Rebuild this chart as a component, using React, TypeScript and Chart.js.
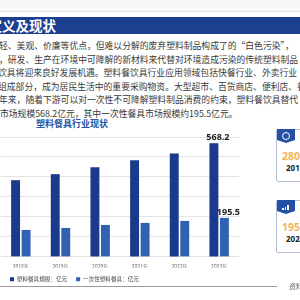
import React, { useEffect, useRef } from "react";
import { Chart, registerables } from "chart.js";

Chart.register(...registerables);

// ---- data ----
const years = ["2018年", "2019年", "2020年", "2021年", "2022年", "2023年"];
const marketSize = [384, 414, 449, 484, 518, 568.2];
const disposableSize = [135, 145, 160, 170, 180, 195.5];
const seriesNames = ["塑料餐具规模：亿元", "一次性塑料餐具：亿元"];
const yMax = 600;
const yStep = 100;

const bannerTitle = "塑料餐饮具行业定义及现状";
const chartTitle = "塑料餐具行业现状";
const paragraphLines = [
  "轻、美观、价廉等优点，但难以分解的废弃塑料制品构成了的“白色污染”，",
  "，研发、生产在环境中可降解的新材料来代替对环境造成污染的传统塑料制品",
  "饮具将迎来良好发展机遇。塑料餐饮具行业应用领域包括快餐行业、外卖行业",
  "组成部分，成为居民生活中的重要采购物资。大型超市、百货商店、便利店、餐",
  "年来，随着下游可以对一次性不可降解塑料制品消费的约束，塑料餐饮具替代",
  "市场规模568.2亿元，其中一次性餐具市场规模约195.5亿元。",
];
const cardValues = ["280", "195.5"];
const cardYears = ["201", "2023"];
const sourceText = "资料来源：智研咨询";

const CJK = '"Noto Sans CJK SC", "Noto Sans", sans-serif';

const lastValueLabels = {
  id: "lastValueLabels",
  afterDatasetsDraw(chart: any) {
    const ctx = chart.ctx;
    ctx.save();
    ctx.font = 'bold 9px "Noto Sans", sans-serif';
    ctx.fillStyle = "#222";
    ctx.textAlign = "center";
    ctx.textBaseline = "alphabetic";
    chart.data.datasets.forEach((ds: any, i: number) => {
      const meta = chart.getDatasetMeta(i);
      const idx = meta.data.length - 1;
      const el = meta.data[idx];
      const v = ds.data[idx];
      ctx.fillText(Number(v).toFixed(1), el.x + 4, el.y - 3);
    });
    ctx.restore();
  },
};

function BarChart() {
  const ref = useRef<HTMLCanvasElement | null>(null);
  useEffect(() => {
    if (!ref.current) return;
    const chart = new Chart(ref.current, {
      type: "bar",
      data: {
        labels: years,
        datasets: [
          {
            label: seriesNames[0],
            data: marketSize,
            backgroundColor: "#1a3b8b",
            categoryPercentage: 0.53,
            barPercentage: 0.85,
          },
          {
            label: seriesNames[1],
            data: disposableSize,
            backgroundColor: "#3062b2",
            categoryPercentage: 0.53,
            barPercentage: 0.85,
          },
        ],
      },
      options: {
        responsive: false,
        animation: false,
        layout: { padding: { left: 1, right: 1, top: 9, bottom: 0 } },
        plugins: {
          legend: {
            position: "bottom",
            align: "start",
            labels: {
              boxWidth: 4,
              boxHeight: 4,
              padding: 9,
              color: "#444",
              font: { size: 5.6, family: CJK },
            },
          },
          title: { display: false },
          tooltip: { enabled: false },
        },
        scales: {
          x: {
            grid: { display: false, drawTicks: false },
            border: { display: false },
            ticks: {
              color: "#666",
              padding: 6,
              font: { size: 5, family: CJK },
            },
            afterFit: (scale: any) => {
              scale.height = 10.5;
            },
          },
          y: {
            min: 0,
            max: yMax,
            ticks: { display: false, stepSize: yStep },
            grid: { color: "#e4e4e4", drawTicks: false },
            border: { display: false },
          },
        },
      },
      plugins: [lastValueLabels],
    });
    return () => chart.destroy();
  }, []);
  return (
    <canvas
      ref={ref}
      width={240}
      height={164}
      style={{ position: "absolute", left: 0, top: 128, width: 240, height: 164 }}
    />
  );
}

function Card({ top, value, year, icon }: { top: number; value: string; year: string; icon: "circle" | "bars" }) {
  return (
    <>
      <div
        style={{
          position: "absolute",
          left: 276,
          top,
          width: 40,
          height: 53,
          border: "1px solid #b3bfd6",
          borderRadius: 2,
          background: "#fff",
          boxSizing: "border-box",
        }}
      />
      <div
        style={{
          position: "absolute",
          left: 277,
          top,
          width: 18,
          height: 14,
          background: "#2451a3",
          clipPath: "polygon(0 0,100% 0,100% 78%,50% 100%,0 78%)",
        }}
      />
      {icon === "circle" ? (
        <div
          style={{
            position: "absolute",
            left: 282,
            top: top + 3,
            width: 6,
            height: 6,
            borderRadius: "50%",
            border: "1.5px solid #fff",
          }}
        />
      ) : (
        <div style={{ position: "absolute", left: 282, top: top + 4, width: 9, height: 6, display: "flex", alignItems: "flex-end", gap: 1 }}>
          <div style={{ width: 1.5, height: 2, background: "#fff" }} />
          <div style={{ width: 1.5, height: 3.5, background: "#fff" }} />
          <div style={{ width: 1.5, height: 5, background: "#fff" }} />
        </div>
      )}
      <div
        style={{
          position: "absolute",
          left: 282,
          top: top + 21,
          fontFamily: '"Noto Sans", sans-serif',
          fontWeight: 700,
          fontSize: 10.5,
          lineHeight: "12px",
          color: "#f2b55c",
          whiteSpace: "nowrap",
        }}
      >
        {value}
      </div>
      <div
        style={{
          position: "absolute",
          left: 286,
          top: top + 34,
          fontFamily: '"Noto Sans", sans-serif',
          fontWeight: 700,
          fontSize: 8,
          lineHeight: "10px",
          color: "#222",
          whiteSpace: "nowrap",
        }}
      >
        {year}
      </div>
    </>
  );
}

export default function App() {
  const lineCenters = [46, 59.5, 73, 86.5, 100, 113.5];
  const lineLefts = [-1, -1, -2, -2, -1, 0];
  return (
    <div
      style={{
        position: "fixed",
        left: 0,
        top: 0,
        width: 300,
        height: 300,
        overflow: "hidden",
        background: "#fff",
      }}
    >
      <div style={{ position: "absolute", left: 0, top: 0, width: 300, height: 11, background: "#f8f8f8" }} />
      <div style={{ position: "absolute", left: 0, top: 11, width: 300, height: 1, background: "#e2e2e2" }} />
      <div style={{ position: "absolute", left: 0, top: 17, width: 300, height: 17, background: "#1c3f8f" }} />
      <div
        style={{
          position: "absolute",
          right: 244,
          top: 17,
          height: 17,
          lineHeight: "17px",
          fontFamily: CJK,
          fontWeight: 700,
          fontSize: 13.5,
          color: "#fff",
          whiteSpace: "nowrap",
        }}
      >
        {bannerTitle}
      </div>
      {paragraphLines.map((t, i) => (
        <div
          key={i}
          style={{
            position: "absolute",
            left: lineLefts[i],
            top: lineCenters[i] - 6,
            height: 12,
            lineHeight: "12px",
            fontFamily: CJK,
            fontSize: 8.8,
            color: "#3a3a3a",
            whiteSpace: "nowrap",
          }}
        >
          {t}
        </div>
      ))}
      <div
        style={{
          position: "absolute",
          left: 36,
          top: 118,
          lineHeight: "11px",
          fontFamily: CJK,
          fontWeight: 700,
          fontSize: 9,
          color: "#1f56a8",
          whiteSpace: "nowrap",
        }}
      >
        {chartTitle}
      </div>
      <BarChart />
      <Card top={129} value={cardValues[0]} year={cardYears[0]} icon="circle" />
      <Card top={200} value={cardValues[1]} year={cardYears[1]} icon="bars" />
      <div style={{ position: "absolute", left: 0, top: 286, width: 277, height: 1, background: "#9a9a9a" }} />
      <div
        style={{
          position: "absolute",
          left: 289,
          top: 281,
          lineHeight: "10px",
          fontFamily: CJK,
          fontSize: 7,
          color: "#666",
          whiteSpace: "nowrap",
        }}
      >
        {sourceText}
      </div>
    </div>
  );
}
